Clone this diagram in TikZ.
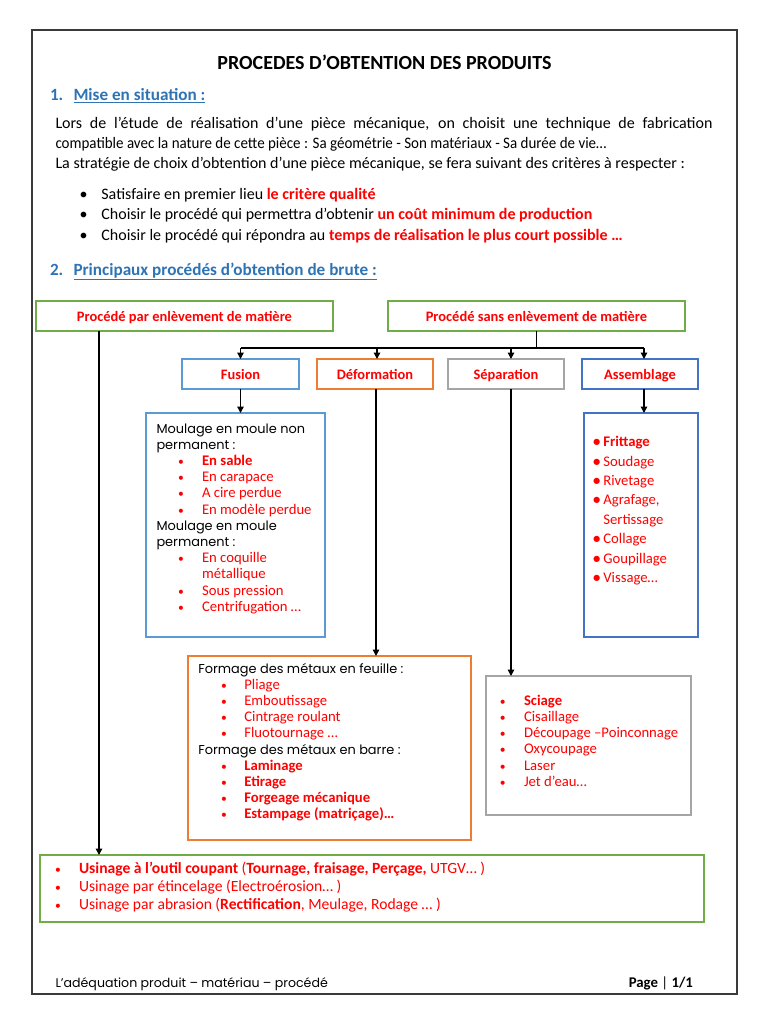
\documentclass[tikz,border=0pt]{standalone}
\usepackage{fontspec}
\usepackage{graphicx}
\setmainfont{Carlito}
\newfontfamily\gothfont{Poppins}
\usetikzlibrary{positioning,arrows.meta}
\definecolor{bleutitre}{HTML}{2E74B5}
\definecolor{rouge}{HTML}{FF0000}
\definecolor{vert}{HTML}{70AD47}
\definecolor{bleuclair}{HTML}{5B9BD5}
\definecolor{orangedef}{HTML}{ED7D31}
\definecolor{gris}{HTML}{A5A5A5}
\definecolor{bleufonce}{HTML}{4472C4}
\definecolor{cadre}{HTML}{3A3A3A}
\begin{document}
\begin{tikzpicture}[x=0.775pt,y=-0.775pt,
  every node/.style={inner sep=0pt,outer sep=0pt},
  ligne/.style={anchor=base west,font=\fontsize{12.4}{14}\selectfont},
  rge/.style={anchor=base west,text=rouge,font=\fontsize{11.4}{13}\selectfont},
  usi/.style={anchor=base west,text=rouge,font=\fontsize{12.1}{14}\selectfont},
  goth/.style={anchor=base west,font=\gothfont\fontsize{10}{12}\selectfont},
  puce/.style={anchor=base,text=rouge,font=\fontsize{9}{11}\selectfont},
  titrebleu/.style={anchor=base west,text=bleutitre,font=\bfseries\fontsize{13.3}{16}\selectfont},
  boite/.style={draw=#1,line width=1pt,text=rouge,text height=0.92em,text depth=0.1em,
    font=\bfseries\fontsize{11.2}{13}\selectfont},
  taille/.style 2 args={minimum width=#1*0.775pt,minimum height=#2*0.775pt},
  trait/.style={line width=1.1pt},
  fleche/.style={trait,-{Triangle[length=5pt,width=5pt]}}]
\fill[white] (0,0) rectangle (768,1024);
\useasboundingbox (0,0) rectangle (768,1024);
\draw[cadre,line width=1.2pt] (32,30) rectangle (737,994);

% en-tete
\node[font=\bfseries\fontsize{15.5}{18}\selectfont] (titre) at (384.5,62) {PROCEDES D’OBTENTION DES PRODUITS};
\node[titrebleu] (num1) at (50,100) {1.};
\node[titrebleu] (sit) at (73.5,100) {\underline{Mise en situation :}};
\node[ligne] (p1) at (55.5,128) {\makebox[509.2pt][s]{Lors de l’étude de réalisation d’une pièce mécanique, on choisit une technique de fabrication}};
\node[ligne] (p2) at (55.5,148) {\scalebox{0.937}[1]{compatible avec la nature de cette pièce : Sa géométrie - Son matériaux - Sa durée de vie…}};
\node[ligne] (p3) at (55.5,168) {La stratégie de choix d’obtention d’une pièce mécanique, se fera suivant des critères à respecter :};
\foreach \y/\txta/\txtb in {199.5/Satisfaire en premier lieu/le critère qualité,
    219.7/Choisir le procédé qui permettra d’obtenir/un coût minimum de production,
    240/Choisir le procédé qui répondra au/temps de réalisation le plus court possible …}{
  \node[ligne] at (79.5,\y) {•};
  \node[ligne] at (101.4,\y) {\txta{} \textcolor{rouge}{\bfseries\txtb}};}
\node[titrebleu] (num2) at (50,275) {2.};
\node[titrebleu] (princ) at (73.5,275) {\underline{Principaux procédés d’obtention de brute :}};

% boites
\node[boite=vert,taille={297}{30}] (avec) at (184.5,316) {Procédé par enlèvement de matière};
\node[boite=vert,taille={297}{30}] (sans) at (536.5,316) {Procédé sans enlèvement de matière};
\node[boite=bleuclair,taille={117}{30}] (fusion) at (240.5,374) {Fusion};
\node[boite=orangedef,taille={116}{30}] (deform) at (375,374) {Déformation};
\node[boite=gris,taille={116}{30}] (separ) at (506,374) {Séparation};
\node[boite=bleufonce,taille={116}{30}] (assem) at (640,374) {Assemblage};
\node[boite=bleuclair,taille={179}{224}] (moulage) at (235.5,525) {};
\node[boite=bleufonce,taille={114}{224}] (liste) at (641,525) {};
\node[boite=orangedef,taille={283}{184}] (formage) at (329.5,748) {};
\node[boite=gris,taille={205}{139}] (decoupe) at (588.5,745.5) {};
\node[boite=vert,taille={664}{67}] (usinage) at (372,888.5) {};

% liaisons
\coordinate (bg) at (240.5,348);
\coordinate (bd) at (644,348);
\draw[trait] (sans.south) -- (sans.south |- bg);
\draw[trait] (bg) -- (bd);
\foreach \b/\dx in {fusion/0,deform/2,separ/5,assem/4}{
  \path ([xshift=\dx*0.775pt]\b.north) coordinate (haut);
  \draw[fleche] (haut |- bg) -- (haut);}
\foreach \a/\b/\dx in {fusion/moulage/0,deform/formage/1,separ/decoupe/5,assem/liste/4}{
  \path ([xshift=\dx*0.775pt]\a.south) coordinate (bas);
  \draw[fleche] (bas) -- (bas |- \b.north);}
\path ([xshift=63*0.775pt]avec.south west) coordinate (gauche);
\draw[fleche] (gauche) -- (gauche |- usinage.north);

% fusion
\node[goth] at (156.5,433) {Moulage en moule non};
\node[goth] at (156.5,449.2) {permanent :};
\foreach \lbl [count=\i from 2] in {\textbf{En sable},En carapace,A cire perdue,En modèle perdue}{
  \node[puce] at (181,433+16.2*\i) {•};
  \node[rge] at (202,433+16.2*\i) {\lbl};}
\node[goth] at (156.5,530.2) {Moulage en moule};
\node[goth] at (156.5,546.4) {permanent :};
\foreach \i/\lbl in {8/En coquille,9/métallique,10/Sous pression,11/Centrifugation …}{
  \ifnum\i=9\else\node[puce] at (181,433+16.2*\i) {•};\fi
  \node[rge] at (202,433+16.2*\i) {\lbl};}

% assemblage
\foreach \i/\lbl in {0/\textbf{Frittage},1/Soudage,2/Rivetage,3/{Agrafage,},4/Sertissage,5/Collage,6/Goupillage,7/Vissage…}{
  \ifnum\i=4\else\node[rge,anchor=base] at (596.7,446.7+19.4*\i) {\textbf{•}};\fi
  \node[rge] at (603.3,446.7+19.4*\i) {\lbl};}

% deformation
\node[goth] at (198.3,673) {Formage des métaux en feuille :};
\foreach \lbl [count=\i] in {Pliage,Emboutissage,Cintrage roulant,Fluotournage …}{
  \node[puce] at (224,673+16.2*\i) {•};
  \node[rge] at (244.3,673+16.2*\i) {\lbl};}
\node[goth] at (198.3,754) {Formage des métaux en barre :};
\foreach \lbl [count=\i from 6] in {Laminage,Etirage,Forgeage mécanique,Estampage (matriçage)…}{
  \node[puce] at (224,673+16.2*\i) {•};
  \node[rge,font=\bfseries\fontsize{11.4}{13}\selectfont] at (244.3,673+16.2*\i) {\lbl};}

% separation
\foreach \lbl [count=\i from 0] in {\textbf{Sciage},Cisaillage,Découpage –Poinconnage,Oxycoupage,Laser,Jet d’eau…}{
  \node[puce] at (502.7,705+16.3*\i) {•};
  \node[rge] at (524,705+16.3*\i) {\lbl};}

% enlevement de matiere
\foreach \y in {873.5,891.5,909.5}
  \node[puce] at (58,\y) {•};
\node[usi] at (79,873.5) {\textbf{Usinage à l’outil coupant} (\textbf{Tournage, fraisage, Perçage,} UTGV… )};
\node[usi] at (79,891.5) {Usinage par étincelage (Electroérosion… )};
\node[usi] at (79,909.5) {Usinage par abrasion (\textbf{Rectification}, Meulage, Rodage … )};

% pied de page
\node[goth,font=\gothfont\fontsize{9.75}{12}\selectfont] (pied) at (55.5,987) {L’adéquation produit – matériau – procédé};
\node[anchor=base east,font=\fontsize{11.5}{13}\selectfont] (page) at (693,987) {\textbf{Page} | \textbf{1/1}};
\end{tikzpicture}
\end{document}
